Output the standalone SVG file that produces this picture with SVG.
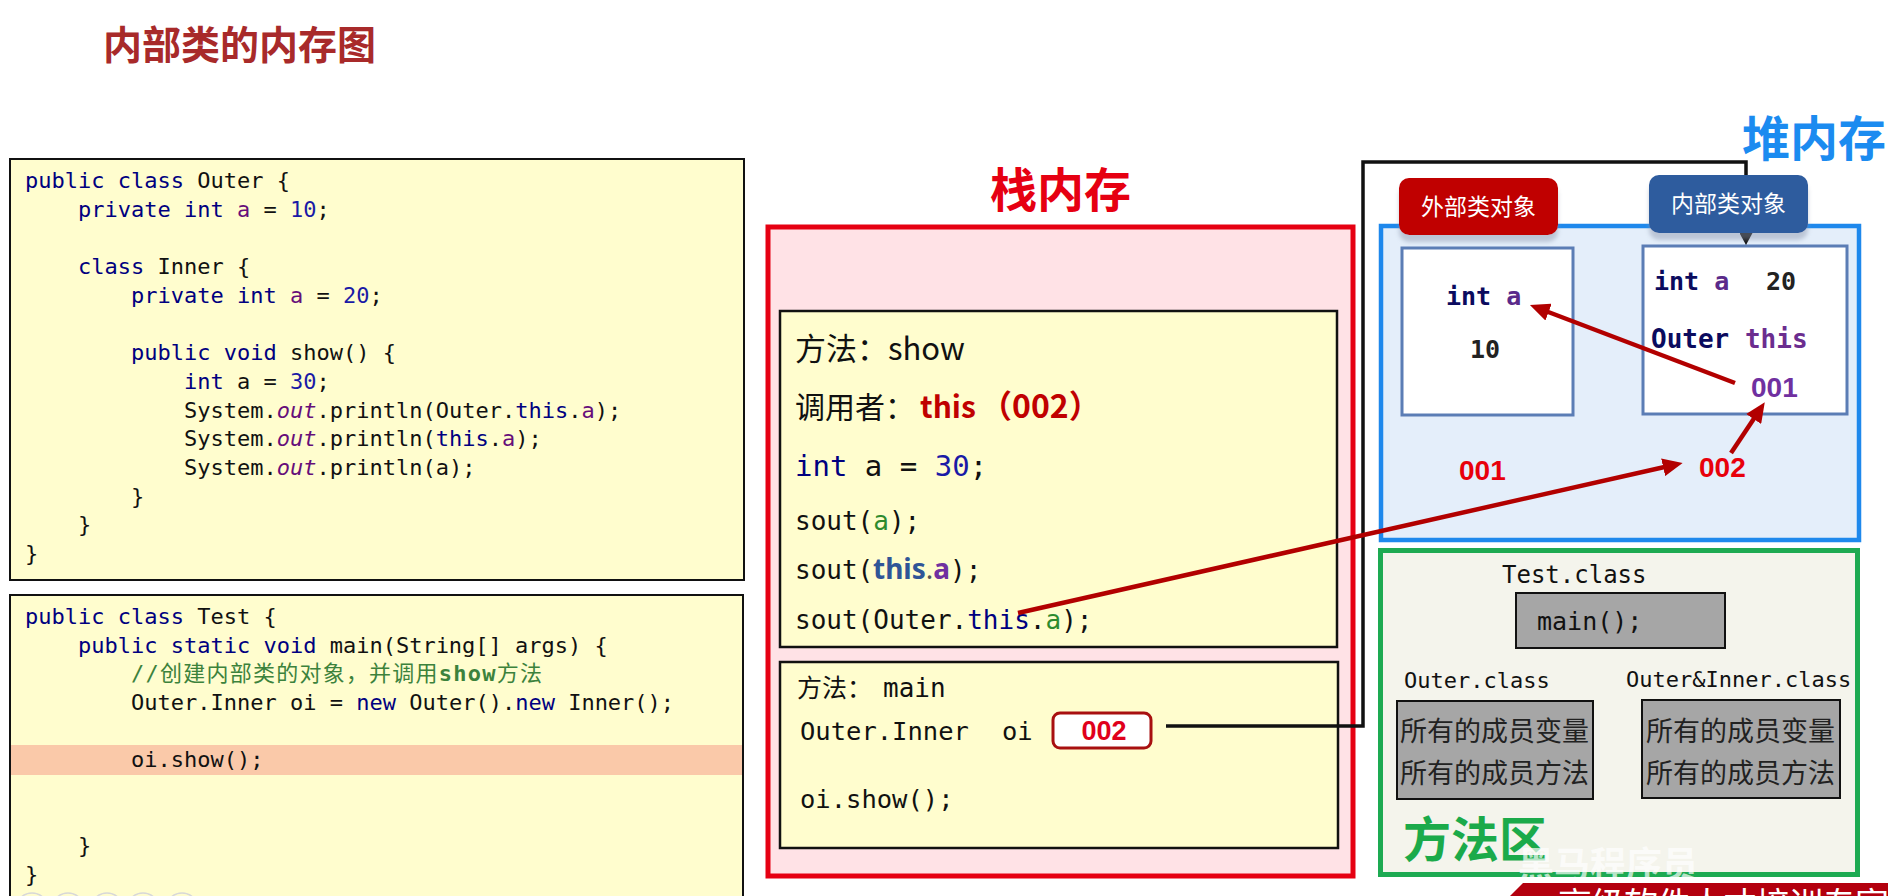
<svg xmlns="http://www.w3.org/2000/svg" width="1888" height="896" viewBox="0 0 1888 896">
<style>
.mono{font-family:"DejaVu Sans Mono","Liberation Mono","Noto Sans CJK SC",monospace;}
.cjk{font-family:"Noto Sans CJK SC","Noto Sans",sans-serif;}
.num{font-family:"Liberation Sans","Noto Sans CJK SC",sans-serif;font-weight:bold;}
.code{font-size:22px;fill:#111;}
.kw{fill:#000080;}
.nb{fill:#1A1AA6;}
.fd{fill:#660E7A;}
.it{fill:#660E7A;font-style:italic;}
.cm{fill:#3C823C;}
.codebox{fill:#FFFDCE;stroke:#111;stroke-width:2;}
.frame{fill:#FFFDCE;stroke:#111;stroke-width:2.5;}
.obj{fill:#FFFFFF;stroke:#5B7DB5;stroke-width:3;}
.grey{fill:#A6A6A6;stroke:#111;stroke-width:2;}
.red-arrow{fill:none;stroke:#B20000;stroke-width:4.5;marker-end:url(#ar);}
.ref{fill:none;stroke:#111;stroke-width:3.5;}
</style>
<defs>
<marker id="ar" markerUnits="userSpaceOnUse" markerWidth="20" markerHeight="18" refX="6" refY="9" orient="auto"><path d="M0,0 L20,9 L0,18 z" fill="#B20000"/></marker>
<marker id="ab" markerUnits="userSpaceOnUse" markerWidth="13" markerHeight="13" refX="2" refY="6.5" orient="auto"><path d="M0,0 L12,6.5 L0,13 z" fill="#111"/></marker>
<filter id="sh" x="-10%" y="-10%" width="120%" height="140%"><feDropShadow dx="0" dy="7" stdDeviation="2" flood-color="#8A94AA" flood-opacity="0.45"/></filter>
</defs>
<rect x="0" y="0" width="1888" height="896" fill="#FFFFFF"/>

<g id="title"><text x="103" y="59" class="cjk" font-size="39" font-weight="700" fill="#A82A2A">内部类的内存图</text></g>

<g id="code-outer">
<rect class="codebox" x="10" y="159" width="734" height="421"/>
<text class="mono code" x="25" y="188"><tspan class="kw">public class</tspan> Outer {</text>
<text class="mono code" x="78" y="217"><tspan class="kw">private int</tspan> <tspan class="fd">a</tspan> = <tspan class="nb">10</tspan>;</text>
<text class="mono code" x="78" y="274"><tspan class="kw">class</tspan> Inner {</text>
<text class="mono code" x="131" y="303"><tspan class="kw">private int</tspan> <tspan class="fd">a</tspan> = <tspan class="nb">20</tspan>;</text>
<text class="mono code" x="131" y="360"><tspan class="kw">public void</tspan> show() {</text>
<text class="mono code" x="184" y="389"><tspan class="kw">int</tspan> a = <tspan class="nb">30</tspan>;</text>
<text class="mono code" x="184" y="418">System.<tspan class="it">out</tspan>.println(Outer.<tspan class="kw">this</tspan>.<tspan class="fd">a</tspan>);</text>
<text class="mono code" x="184" y="446">System.<tspan class="it">out</tspan>.println(<tspan class="kw">this</tspan>.<tspan class="fd">a</tspan>);</text>
<text class="mono code" x="184" y="475">System.<tspan class="it">out</tspan>.println(a);</text>
<text class="mono code" x="131" y="504">}</text>
<text class="mono code" x="78" y="532">}</text>
<text class="mono code" x="25" y="561">}</text>
</g>

<g id="code-test">
<rect class="codebox" x="10" y="595" width="733" height="330"/>
<rect x="11" y="745" width="731" height="30" fill="#FAC9A9"/>
<text class="mono code" x="25" y="624"><tspan class="kw">public class</tspan> Test {</text>
<text class="mono code" x="78" y="653"><tspan class="kw">public static void</tspan> main(String[] args) {</text>
<text class="mono code cm" x="131" y="681" textLength="411" lengthAdjust="spacing">//创建内部类的对象，并调用<tspan font-weight="700">show</tspan>方法</text>
<text class="mono code" x="131" y="710">Outer.Inner oi = <tspan class="kw">new</tspan> Outer().<tspan class="kw">new</tspan> Inner();</text>
<text class="mono code" x="131" y="767">oi.show();</text>
<text class="mono code" x="78" y="853">}</text>
<text class="mono code" x="25" y="882">}</text>
</g>

<g id="player-dots" fill="none" stroke="#D8D8D8" stroke-width="1.5">
<circle cx="32" cy="909" r="16"/><circle cx="68" cy="909" r="16"/><circle cx="107" cy="909" r="16"/><circle cx="143" cy="909" r="16"/><circle cx="182" cy="909" r="16"/>
</g>

<g id="stack">
<text x="990" y="207" class="cjk" font-size="47" font-weight="700" fill="#E60012">栈内存</text>
<rect x="768" y="227" width="585" height="649" fill="#FFE2E6" stroke="#E60012" stroke-width="5"/>
</g>

<g id="frame-show">
<rect class="frame" x="780" y="311" width="557" height="336"/>
<text class="cjk" x="795" y="360" font-size="31" fill="#111">方法：show</text>
<text class="cjk" x="795" y="418" font-size="30" fill="#111">调用者：<tspan x="920" font-weight="700" fill="#C00000">this</tspan><tspan x="980" font-size="32" font-weight="700" fill="#C00000">（002）</tspan></text>
<text class="mono" x="795" y="476" font-size="29" fill="#111"><tspan fill="#000080">int</tspan> a = <tspan fill="#1A1AA6">30</tspan>;</text>
<text class="mono" x="795" y="530" font-size="26" fill="#111">sout(<tspan fill="#2E8B2E">a</tspan>);</text>
<text class="mono" x="795" y="579" font-size="26" fill="#111">sout(<tspan x="873" font-family="Noto Sans, Liberation Sans, sans-serif" font-size="28" font-weight="700" fill="#2F5597">this</tspan><tspan font-family="Noto Sans, Liberation Sans, sans-serif" font-size="28" fill="#555">.</tspan><tspan font-family="Noto Sans, Liberation Sans, sans-serif" font-size="28" font-weight="700" fill="#7030A0">a</tspan>);</text>
<text class="mono" x="795" y="629" font-size="26" fill="#111">sout(Outer.<tspan fill="#000080">this</tspan>.<tspan fill="#2E8B2E">a</tspan>);</text>
</g>

<g id="frame-main">
<rect class="frame" x="780" y="662" width="558" height="186"/>
<text class="cjk" x="797" y="697" font-size="25" fill="#111">方法：<tspan x="883" class="mono" font-size="26">main</tspan></text>
<text class="mono" x="800" y="740" font-size="25.5" fill="#111">Outer.Inner<tspan x="1002">oi</tspan></text>
<rect x="1053" y="713" width="98" height="35" rx="7" fill="#FFFFFF" stroke="#A81010" stroke-width="3"/>
<text class="num" x="1104" y="740" font-size="27" fill="#E0001B" text-anchor="middle">002</text>
<text class="mono" x="800" y="808" font-size="25.5" fill="#111">oi.show();</text>
</g>

<g id="heap">
<text x="1742" y="156" class="cjk" font-size="48" font-weight="700" fill="#1B8BF0">堆内存</text>
<rect x="1381" y="226" width="478" height="314" fill="#E4EEFA" stroke="#1E88EC" stroke-width="4.5"/>
</g>

<g id="outer-object">
<rect class="obj" x="1402" y="248" width="171" height="167"/>
<text class="mono" x="1446" y="305" font-size="25" font-weight="700" fill="#0B0B5E">int <tspan fill="#5A2A8A">a</tspan></text>
<text class="mono" x="1470" y="358" font-size="25" font-weight="700" fill="#222">10</text>
<text class="num" x="1459" y="480" font-size="28" fill="#E8000B">001</text>
</g>

<g id="inner-object">
<rect class="obj" x="1643" y="246" width="204" height="168"/>
<text class="mono" x="1654" y="290" font-size="25" font-weight="700" fill="#0B0B5E">int <tspan fill="#5A2A8A">a</tspan></text>
<text class="mono" x="1766" y="290" font-size="25" font-weight="700" fill="#222">20</text>
<text class="mono" x="1651" y="348" font-size="26" font-weight="700" fill="#0B0B5E">Outer <tspan fill="#6B2D8F">this</tspan></text>
<text class="num" x="1751" y="397" font-size="28" fill="#7030A0">001</text>
<text class="num" x="1699" y="477" font-size="28" fill="#E8000B">002</text>
</g>

<g id="method-area">
<rect x="1380.5" y="550.5" width="477" height="324" fill="#F4F4EC" stroke="#1DAA52" stroke-width="5"/>
<text class="mono" x="1502" y="583" font-size="24" fill="#111">Test.class</text>
<rect class="grey" x="1516" y="593" width="209" height="55"/>
<text class="mono" x="1537" y="630" font-size="25" fill="#111">main();</text>
<text class="mono" x="1404" y="688" font-size="22" fill="#111">Outer.class</text>
<text class="mono" x="1626" y="687" font-size="22" fill="#111">Outer&amp;Inner.class</text>
<rect class="grey" x="1397" y="701" width="196" height="98"/>
<text class="cjk" x="1400" y="741" font-size="27" fill="#222">所有的成员变量</text>
<text class="cjk" x="1400" y="783" font-size="27" fill="#222">所有的成员方法</text>
<rect class="grey" x="1642" y="700" width="198" height="98"/>
<text class="cjk" x="1646" y="741" font-size="27" fill="#222">所有的成员变量</text>
<text class="cjk" x="1646" y="783" font-size="27" fill="#222">所有的成员方法</text>
<text x="1403" y="857" class="cjk" font-size="48" font-weight="700" fill="#1BAA4A">方法区</text>
</g>

<g id="connectors">
<path class="ref" d="M1166,726 H1363 V162 H1746 V235" marker-end="url(#ab)"/>
<path class="red-arrow" d="M1018,613 L1669,466"/>
<path class="red-arrow" d="M1731,453 L1757,414"/>
<path class="red-arrow" d="M1735,383 L1543,310"/>
</g>

<g id="label-outer">
<rect x="1399" y="178" width="159" height="57" rx="10" fill="#C00000" filter="url(#sh)"/>
<text class="cjk" x="1478.5" y="215" font-size="23" fill="#FFFFFF" text-anchor="middle">外部类对象</text>
</g>
<g id="label-inner">
<rect x="1649" y="175" width="159" height="58" rx="10" fill="#2E5B9E" filter="url(#sh)"/>
<text class="cjk" x="1728.5" y="212" font-size="23" fill="#FFFFFF" text-anchor="middle">内部类对象</text>
</g>

<g id="overlay">
<text x="1518" y="878" class="cjk" font-size="36" font-weight="700" fill="#FFFFFF" fill-opacity="0.7">黑马程序员</text>
<path d="M1523,883 H1888 V896 H1510 Z" fill="#B3000E"/>
<text x="1558" y="917" class="cjk" font-size="34" fill="#FFFFFF" letter-spacing="-1">高级软件人才培训专家</text>
</g>
</svg>
